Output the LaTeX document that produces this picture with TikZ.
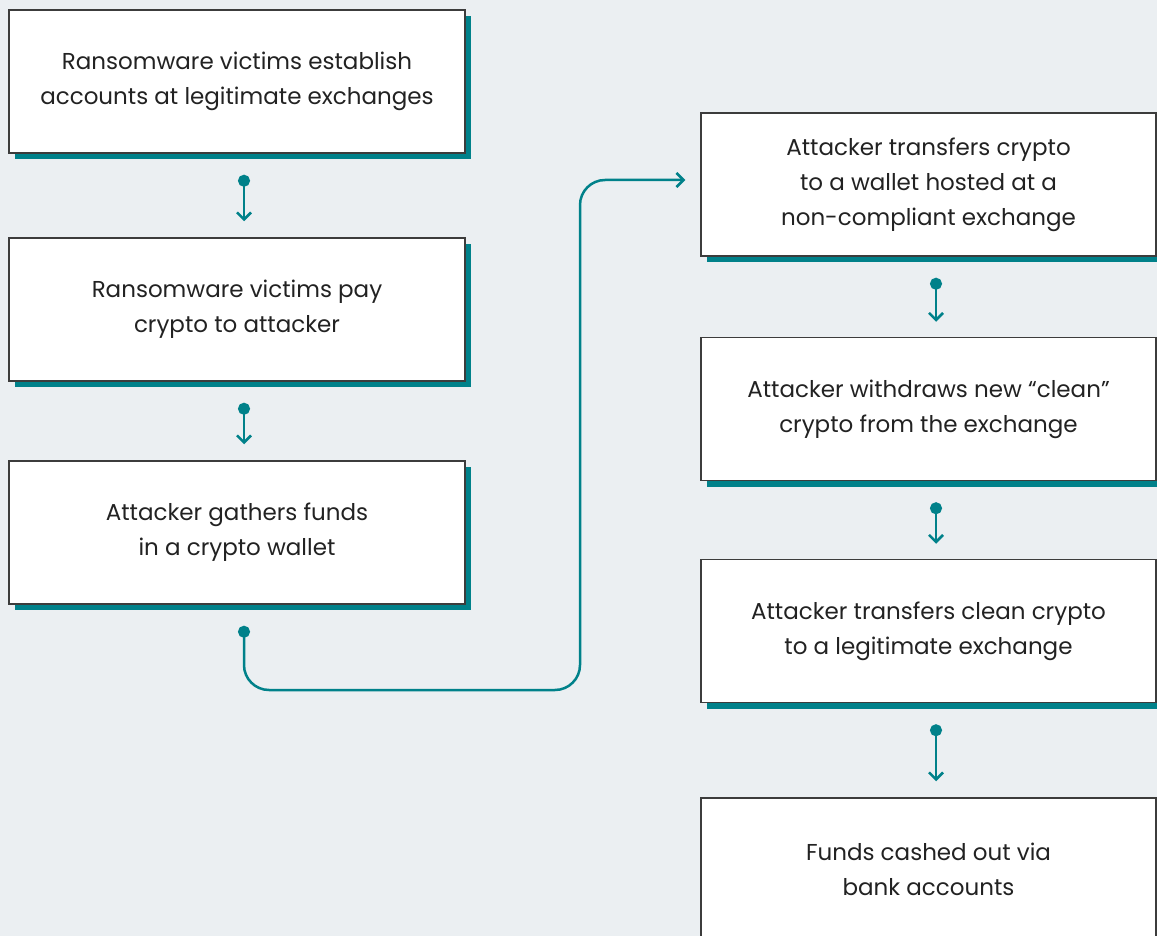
\documentclass[tikz,border=0pt]{standalone}
\usepackage{fontspec}
\setmainfont{Poppins}
\usetikzlibrary{arrows.meta,calc,shadows}
\definecolor{bgc}{HTML}{EBEFF2}
\definecolor{tealc}{HTML}{00818A}
\definecolor{ink}{HTML}{222222}
\definecolor{edgec}{HTML}{3C3C3C}
\tikzset{
  stepbox/.style={draw=edgec, line width=1.5pt, fill=white,
    minimum width=456pt, minimum height=143pt, inner sep=0pt,
    align=center, text=ink, font=\fontsize{23}{35}\selectfont,
    drop shadow={shadow xshift=6pt, shadow yshift=-6pt, fill=tealc, opacity=1, draw=none}},
  flow/.style={draw=tealc, line width=2.5pt,
    {Circle[length=12pt,width=12pt]}-{Straight Barb[length=7pt,width=14pt,line width=2.5pt]}}
}
\begin{document}
\begin{tikzpicture}[x=1pt,y=-1pt]
\fill[bgc] (0,0) rectangle (1157,936);
\useasboundingbox (0,0) rectangle (1157,936);
\begin{scope}
\clip (0,0) rectangle (1157,936);
\node[stepbox] (b1) at (237,81.5) {Ransomware victims establish\\accounts at legitimate exchanges};
\node[stepbox] (b2) at (237,309.5) {Ransomware victims pay\\crypto to attacker};
\node[stepbox] (b3) at (237,532.5) {Attacker gathers funds\\in a crypto wallet};
\node[stepbox, minimum width=455pt] (r1) at (928.5,184.5) {Attacker transfers crypto\\to a wallet hosted at a\\non-compliant exchange};
\node[stepbox, minimum width=455pt] (r2) at (928.5,409) {Attacker withdraws new “clean”\\crypto from the exchange};
\node[stepbox, minimum width=455pt] (r3) at (928.5,631) {Attacker transfers clean crypto\\to a legitimate exchange};
\node[stepbox, minimum width=455pt] (r4) at (928.5,869.5) {Funds cashed out via\\bank accounts};
\end{scope}
\draw[flow] ($(b1.south)+(7,21)$) -- ($(b2.north)+(7,-16)$);
\draw[flow] ($(b2.south)+(7,21)$) -- ($(b3.north)+(7,-16)$);
\draw[flow] ($(r1.south)+(7.5,21)$) -- ($(r2.north)+(7.5,-15)$);
\draw[flow] ($(r2.south)+(7.5,21)$) -- ($(r3.north)+(7.5,-15)$);
\draw[flow] ($(r3.south)+(7.5,21)$) -- ($(r4.north)+(7.5,-16)$);
\coordinate (bend) at (580,690);
\draw[flow, rounded corners=25pt] ($(b3.south)+(7,21)$) |- (bend) |- ($(r1.west)+(-15,-4.5)$);
\end{tikzpicture}
\end{document}
